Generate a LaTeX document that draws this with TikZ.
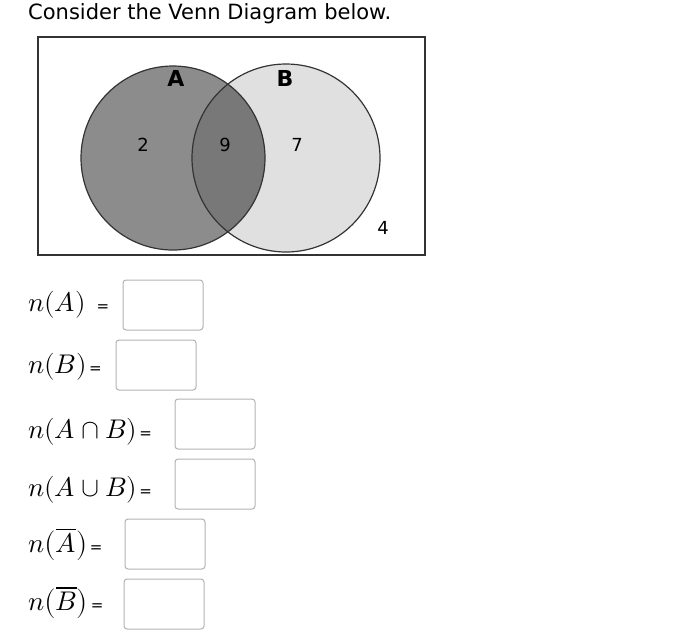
\documentclass[tikz,border=0pt]{standalone}
\usepackage{fontspec}
\setmainfont{DejaVu Sans}
\usepackage{unicode-math}
\setmathfont{Latin Modern Math}
\newcommand{\eqs}{{\fontsize{15}{17}\selectfont\,=}}
\begin{document}
\begin{tikzpicture}[x=1pt,y=-1pt,
  ans/.style={draw=black!30,rounded corners=3pt,line width=1pt,minimum width=80pt,minimum height=50pt},
  eq/.style={anchor=west,inner sep=0,font=\fontsize{27}{29}\selectfont},
  lab/.style={font=\fontsize{18}{20}\selectfont}]
\useasboundingbox (0,0) rectangle (700,641);
\node[anchor=west,font=\fontsize{21}{24}\selectfont,inner sep=0] (title) at (28,14) {Consider the Venn Diagram below.};
\node[draw=black!80,line width=1.2pt,minimum width=387pt,minimum height=218pt,inner sep=0] (box) at (231.5,146) {};
\fill[black!12] (286,158) circle (94);
\fill[black!45] (173,158) circle (92);
\begin{scope}\clip (173,158) circle (92); \fill[black!53] (286,158) circle (94);\end{scope}
\draw[black!80,line width=1.2pt] (173,158) circle (92);
\draw[black!80,line width=1.2pt] (286,158) circle (94);
\node[lab,font=\bfseries\fontsize{22}{24}\selectfont] (A) at (176,78) {A};
\node[lab,font=\bfseries\fontsize{22}{24}\selectfont] (B) at (285,78) {B};
\node[lab] (n2) at (143,145) {2};
\node[lab] (n9) at (225,145) {9};
\node[lab] (n7) at (297,145) {7};
\node[lab] (n4) at (383,228) {4};
\node[eq] (e1) at (28,305) {$n(A)$\ \eqs};
\node[ans] (b1) at (163,305) {};
\node[eq] (e2) at (28,367) {$n(B)$\eqs};
\node[ans] (b2) at (156,365) {};
\node[eq] (e3) at (28,432) {$n(A\cap B)$\eqs};
\node[ans] (b3) at (215,424) {};
\node[eq] (e4) at (28,490) {$n(A\cup B)$\eqs};
\node[ans] (b4) at (215,484) {};
\node[eq] (e5) at (28,545) {$n\big(\overline{A}\big)$\eqs};
\node[ans] (b5) at (165,544) {};
\node[eq] (e6) at (28,603) {$n\big(\overline{B}\big)$\eqs};
\node[ans] (b6) at (164,604) {};
\end{tikzpicture}
\end{document}
